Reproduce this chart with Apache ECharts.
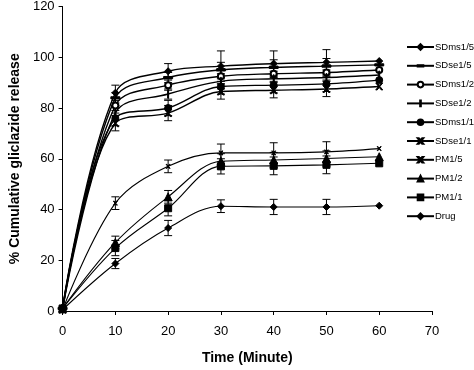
<!DOCTYPE html>
<html><head><meta charset="utf-8">
<script src="https://cdn.jsdelivr.net/npm/echarts@6/dist/echarts.min.js"></script>
<style>html,body{margin:0;padding:0;background:#fff}#c{width:474px;height:370px}</style>
</head><body><div id="c"></div>
<script>
const times = [0, 10, 20, 30, 40, 50, 60];
const names = ['SDms1/5','SDse1/5','SDms1/2','SDse1/2','SDms1/1','SDse1/1','PM1/5','PM1/2','PM1/1','Drug'];
const SDms15 = [1.5, 86, 94.5, 96.5, 97.5, 98, 98.5];
const SDse15 = [1, 84, 92, 95, 96, 96.5, 97];
const SDms12 = [1, 81, 89, 92.5, 93.5, 94, 95];
const SDse12 = [0.5, 78, 85.5, 90.5, 91.5, 92, 93];
const SDms11 = [1, 76, 80, 88.5, 89, 89.5, 91];
const SDse11 = [0.5, 74, 78, 86.5, 87, 87.5, 88.5];
const PM15 = [0.5, 42.5, 57, 62.3, 62.3, 62.7, 64];
const PM12 = [1, 27, 45, 59, 59.5, 60.1, 60.8];
const PM11 = [1, 24.8, 40.5, 57, 57.2, 57.6, 58.2];
const Drug = [0.5, 18.7, 32.7, 41.3, 41, 41, 41.5];
const errSDms15 = [0, 3, 3, 6, 5, 5, 0];
const errSDse15 = [0, 2, 2, 3, 3, 3, 0];
const errSDms12 = [0, 3, 2, 3, 3, 3, 0];
const errSDse12 = [0, 3, 2, 3, 3, 3, 0];
const errSDms11 = [0, 3, 3, 3, 3, 3, 0];
const errSDse11 = [0, 3, 3, 3, 3, 3, 0];
const errPM15 = [0, 2.5, 2.5, 3.5, 4, 4, 0];
const errPM12 = [0, 2.5, 2.5, 3, 3, 3, 0];
const errPM11 = [0, 3, 3, 3, 3.5, 3.5, 0];
const errDrug = [0, 2, 3, 2.5, 3, 3, 0];

const values = [SDms15, SDse15, SDms12, SDse12, SDms11, SDse11, PM15, PM12, PM11, Drug];
const errs = [errSDms15, errSDse15, errSDms12, errSDse12, errSDms11, errSDse11, errPM15, errPM12, errPM11, errDrug];
const xPath = 'path://M0,0 L2,0 L5,3.5 L8,0 L10,0 L6,5 L10,10 L8,10 L5,6.5 L2,10 L0,10 L4,5 Z';
// square bounding box kept with degenerate sub-paths so the legend does not stretch them
const dashPath = 'path://M0,3.8 L10,3.8 L10,6.2 L0,6.2 Z M0,0 L0,0 Z M10,10 L10,10 Z';
const tickPath = 'path://M4.4,0 L5.6,0 L5.6,10 L4.4,10 Z M0,5 L0,5 Z M10,5 L10,5 Z';
const symbols = [
  ['diamond', 7], [dashPath, 9], ['emptyCircle', 6], [tickPath, 8], ['circle', 7],
  [xPath, 7], [xPath, 4], ['triangle', 8], ['rect', 7], ['diamond', 7]
];

const series = [];
values.forEach((v, i) => {
  series.push({
    name: names[i], type: 'line', smooth: 0.35,
    data: times.map((t, j) => [t, v[j]]),
    symbol: symbols[i][0], symbolSize: symbols[i][1],
    lineStyle: { color: '#000', width: i < 6 ? 1.4 : 1.1 },
    itemStyle: { color: '#000', borderColor: '#000', borderWidth: 1 },
    z: 3
  });
  series.push({
    type: 'custom', silent: true, z: 2,
    data: times.map((t, j) => [t, v[j] - errs[i][j], v[j] + errs[i][j]]).filter((d, j) => errs[i][j] > 0),
    renderItem: function (params, api) {
      const lo = api.coord([api.value(0), api.value(1)]);
      const hi = api.coord([api.value(0), api.value(2)]);
      const w = 4;
      const st = { stroke: '#000', lineWidth: 1 };
      return { type: 'group', children: [
        { type: 'line', shape: { x1: lo[0], y1: lo[1], x2: hi[0], y2: hi[1] }, style: st },
        { type: 'line', shape: { x1: lo[0] - w, y1: lo[1], x2: lo[0] + w, y2: lo[1] }, style: st },
        { type: 'line', shape: { x1: hi[0] - w, y1: hi[1], x2: hi[0] + w, y2: hi[1] }, style: st }
      ]};
    }
  });
});

const chart = echarts.init(document.getElementById('c'));
chart.setOption({
  animation: false,
  backgroundColor: '#fff',
  textStyle: { fontFamily: 'Liberation Sans, Arial, sans-serif' },
  grid: { left: 53, right: 42, top: 5, bottom: 51 },
  legend: {
    data: names, orient: 'vertical', left: 401, top: 37,
    itemWidth: 27, itemHeight: 7, itemGap: 8.8,
    textStyle: { fontSize: 9.5, color: '#000', padding: [0, 0, 0, -4] },
    inactiveColor: '#000'
  },
  xAxis: {
    type: 'value', min: 0, max: 70, interval: 10,
    name: 'Time (Minute)', nameLocation: 'middle', nameGap: 40,
    nameTextStyle: { fontSize: 14, fontWeight: 'bold', color: '#000' },
    axisLine: { lineStyle: { color: '#000', width: 1 } },
    axisTick: { show: true, length: 4, lineStyle: { color: '#000' } },
    axisLabel: { color: '#000', fontSize: 13, margin: 14 },
    splitLine: { show: false }
  },
  yAxis: {
    type: 'value', min: 0, max: 120, interval: 20,
    name: '% Cumulative gliclazide release', nameLocation: 'middle', nameGap: 36,
    nameTextStyle: { fontSize: 14, fontWeight: 'bold', color: '#000' },
    axisLine: { show: true, lineStyle: { color: '#000', width: 1 } },
    axisTick: { show: true, length: 4, lineStyle: { color: '#000' } },
    axisLabel: { color: '#000', fontSize: 13, margin: 8 },
    splitLine: { show: false }
  },
  series: series
});
</script></body></html>
